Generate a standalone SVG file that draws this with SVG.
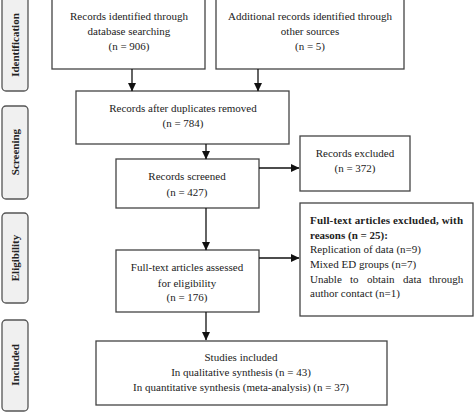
<svg xmlns="http://www.w3.org/2000/svg" width="474" height="412" viewBox="0 0 474 412">
<defs>
<marker id="ah" markerWidth="9" markerHeight="9" refX="8" refY="4.5" orient="auto" markerUnits="userSpaceOnUse">
<path d="M0,0.5 L8.5,4.5 L0,8.5 Z" fill="#111"/>
</marker>
<style>
.box{fill:#fff;stroke:#444;stroke-width:1.3}
.side{fill:#f0f0f0;stroke:#555;stroke-width:1.3}
.t{font-family:"Liberation Serif","Times New Roman",serif;font-size:11px;fill:#222}
.c{text-anchor:middle}
.b{font-weight:bold}
.lab{font-family:"Liberation Serif","Times New Roman",serif;font-size:11px;font-weight:bold;fill:#222;text-anchor:middle}
.arr{stroke:#111;stroke-width:1.3;fill:none;marker-end:url(#ah)}
</style>
</defs>
<rect width="474" height="412" fill="#fff"/>
<g id="phase-identification"><rect class="side" x="2" y="-6" width="26" height="97" rx="4"/><text class="lab" transform="translate(19,45) rotate(-90)">Identification</text></g>
<g id="phase-screening"><rect class="side" x="2" y="106" width="26" height="93" rx="4"/><text class="lab" transform="translate(19,152) rotate(-90)">Screening</text></g>
<g id="phase-eligibility"><rect class="side" x="2" y="213" width="26" height="90" rx="4"/><text class="lab" transform="translate(19,258) rotate(-90)">Eligibility</text></g>
<g id="phase-included"><rect class="side" x="2" y="320" width="26" height="91" rx="4"/><text class="lab" transform="translate(19,365) rotate(-90)">Included</text></g>

<g id="n-database"><rect class="box" x="52" y="-2" width="153" height="71"/>
<text class="t c" x="129" y="20">Records identified through</text>
<text class="t c" x="129" y="35">database searching</text>
<text class="t c" x="129" y="50">(n = 906)</text></g>
<g id="n-other"><rect class="box" x="216" y="-2" width="188" height="71"/>
<text class="t c" x="310" y="20">Additional records identified through</text>
<text class="t c" x="310" y="35">other sources</text>
<text class="t c" x="310" y="50">(n = 5)</text></g>
<g id="n-dup"><rect class="box" x="76" y="91" width="213" height="53"/>
<text class="t c" x="183" y="112">Records after duplicates removed</text>
<text class="t c" x="183" y="127">(n = 784)</text></g>
<g id="n-screened"><rect class="box" x="116" y="159" width="143" height="49"/>
<text class="t c" x="187" y="180">Records screened</text>
<text class="t c" x="187" y="196">(n = 427)</text></g>
<g id="n-excluded"><rect class="box" x="300" y="136" width="110" height="55"/>
<text class="t c" x="355" y="157">Records excluded</text>
<text class="t c" x="355" y="172">(n = 372)</text></g>
<g id="n-fulltext"><rect class="box" x="116" y="250" width="143" height="62"/>
<text class="t c" x="187" y="271">Full-text articles assessed</text>
<text class="t c" x="187" y="287">for eligibility</text>
<text class="t c" x="187" y="301">(n = 176)</text></g>
<g id="n-ftexcluded"><rect class="box" x="300" y="203" width="173" height="113"/>
<text class="t b" x="310" y="224" textLength="153" lengthAdjust="spacing">Full-text articles excluded, with</text>
<text class="t b" x="310" y="239">reasons (n = 25):</text>
<text class="t" x="310" y="253">Replication of data (n=9)</text>
<text class="t" x="310" y="268">Mixed ED groups (n=7)</text>
<text class="t" y="283"><tspan x="310">Unable</tspan><tspan x="350">to</tspan><tspan x="367">obtain</tspan><tspan x="403">data</tspan><tspan x="429">through</tspan></text>
<text class="t" x="310" y="297">author contact (n=1)</text></g>
<g id="n-included"><rect class="box" x="96" y="341" width="291" height="64"/>
<text class="t c" x="241" y="361">Studies included</text>
<text class="t c" x="241" y="376">In qualitative synthesis (n = 43)</text>
<text class="t c" x="241" y="391">In quantitative synthesis (meta-analysis) (n = 37)</text></g>

<g id="connectors">
<line class="arr" x1="132" y1="69" x2="132" y2="91"/>
<line class="arr" x1="258" y1="69" x2="258" y2="91"/>
<line class="arr" x1="206" y1="144" x2="206" y2="159"/>
<line class="arr" x1="259" y1="168" x2="299" y2="168"/>
<line class="arr" x1="206" y1="208" x2="206" y2="250"/>
<line class="arr" x1="259" y1="258" x2="299" y2="258"/>
<line class="arr" x1="206" y1="312" x2="206" y2="340"/>
</g>
</svg>
